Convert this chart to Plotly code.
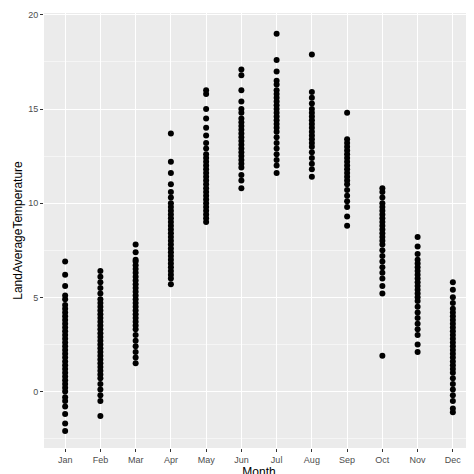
import plotly.graph_objects as go

months = ["Jan","Feb","Mar","Apr","May","Jun","Jul","Aug","Sep","Oct","Nov","Dec"]

temps = {
 "Jan": [-2.1,-1.7,-1.2,-0.8,-0.5,-0.3,0.0,0.2,0.4,0.6,0.8,1.0,1.2,1.4,1.6,1.8,2.0,2.2,2.4,2.6,2.8,3.0,3.2,3.4,3.6,3.8,4.0,4.2,4.4,4.6,4.9,5.1,5.6,6.2,6.9],
 "Feb": [-1.3,-0.5,-0.2,0.1,0.4,0.7,0.9,1.1,1.3,1.5,1.7,1.9,2.1,2.3,2.5,2.7,2.9,3.1,3.3,3.5,3.7,3.9,4.1,4.3,4.5,4.7,4.9,5.2,5.5,5.8,6.1,6.4],
 "Mar": [1.5,1.8,2.1,2.4,2.7,3.0,3.3,3.5,3.7,3.9,4.1,4.3,4.5,4.7,4.9,5.1,5.3,5.5,5.7,5.9,6.1,6.3,6.5,6.7,6.9,7.0,7.4,7.8],
 "Apr": [5.7,6.0,6.2,6.4,6.6,6.8,7.0,7.2,7.4,7.6,7.8,8.0,8.2,8.4,8.6,8.8,9.0,9.2,9.4,9.6,9.8,10.0,10.3,10.6,11.0,11.6,12.2,13.7],
 "May": [9.0,9.2,9.4,9.6,9.8,10.0,10.2,10.4,10.6,10.8,11.0,11.2,11.4,11.6,11.8,12.0,12.2,12.4,12.6,12.9,13.2,13.6,14.0,14.5,15.0,15.8,16.0],
 "Jun": [10.8,11.2,11.5,11.9,12.1,12.3,12.5,12.7,12.9,13.1,13.3,13.5,13.7,13.9,14.1,14.3,14.5,14.8,15.0,15.4,16.0,16.8,17.1],
 "Jul": [11.6,12.0,12.3,12.6,12.9,13.2,13.5,13.8,14.0,14.2,14.4,14.6,14.8,15.0,15.2,15.4,15.6,15.8,16.0,16.3,16.5,17.0,17.6,19.0],
 "Aug": [11.4,11.8,12.1,12.4,12.7,13.0,13.2,13.4,13.6,13.8,14.0,14.2,14.4,14.6,14.8,15.0,15.3,15.6,15.9,17.9],
 "Sep": [8.8,9.3,9.8,10.1,10.4,10.7,11.0,11.2,11.4,11.6,11.8,12.0,12.2,12.4,12.6,12.8,13.0,13.2,13.4,14.8],
 "Oct": [1.9,5.2,5.6,6.0,6.3,6.6,6.9,7.2,7.5,7.8,8.0,8.2,8.4,8.6,8.8,9.0,9.2,9.4,9.6,9.8,10.0,10.3,10.6,10.8],
 "Nov": [2.1,2.5,3.0,3.3,3.6,3.9,4.2,4.5,4.8,5.0,5.2,5.4,5.6,5.8,6.0,6.2,6.4,6.6,6.8,7.0,7.3,7.7,8.2],
 "Dec": [-1.1,-0.9,-0.5,-0.2,0.1,0.4,0.7,1.0,1.2,1.4,1.6,1.8,2.0,2.2,2.4,2.6,2.8,3.0,3.2,3.4,3.6,3.8,4.0,4.2,4.4,4.7,5.0,5.4,5.8],
}

xs, ys = [], []
for m in months:
    for v in temps[m]:
        xs.append(m); ys.append(v)

fig = go.Figure(go.Scatter(x=xs, y=ys, mode="markers",
    marker=dict(color="black", size=6), hoverinfo="skip"))

fig.update_layout(
    width=474, height=474, plot_bgcolor="#EBEBEB", paper_bgcolor="white",
    margin=dict(l=36, r=8, t=5, b=34, autoexpand=False), showlegend=False,
    font=dict(family="Liberation Sans", size=11, color="#4D4D4D"),
    xaxis=dict(title=dict(text="Month", font=dict(size=12, color="black"), standoff=2),
               automargin=False,
               categoryorder="array", categoryarray=months,
               gridcolor="white", gridwidth=1.2, ticks="outside", ticklen=3,
               tickcolor="#333", zeroline=False, range=[-0.6, 11.6], tickfont=dict(size=9)),
    yaxis=dict(title=dict(text="LandAverageTemperature", font=dict(size=12, color="black"), standoff=2),
               automargin=False,
               range=[-3.0, 20.1], tickvals=[0,5,10,15,20],
               gridcolor="white", gridwidth=1.2, ticks="outside", ticklen=3,
               tickcolor="#333", zeroline=False, tickfont=dict(size=9),
               minor=dict(tickvals=[-2.5,2.5,7.5,12.5,17.5], gridcolor="#F5F5F5", gridwidth=0.6, ticks="")),
)
fig.write_html("out.html")
